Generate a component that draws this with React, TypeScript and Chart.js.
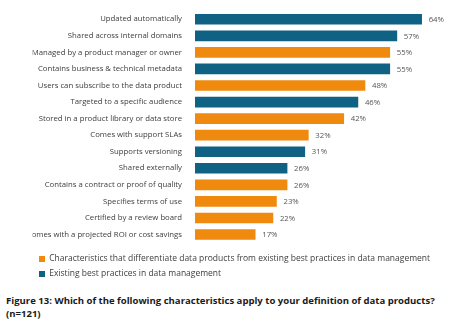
import React, { useEffect, useRef } from "react";
import { Chart, registerables } from "chart.js";

Chart.register(...registerables);

const categories = [
  "Updated automatically",
  "Shared across internal domains",
  "Managed by a product manager or owner",
  "Contains business & technical metadata",
  "Users can subscribe to the data product",
  "Targeted to a specific audience",
  "Stored in a product library or data store",
  "Comes with support SLAs",
  "Supports versioning",
  "Shared externally",
  "Contains a contract or proof of quality",
  "Specifies terms of use",
  "Certified by a review board",
  "Comes with a projected ROI or cost savings",
];

const differentiating: (number | null)[] = [null, null, 55, null, 48, null, 42, 32, null, null, 26, 23, 22, 17];
const existing: (number | null)[] = [64, 57, null, 55, null, 46, null, null, 31, 26, null, null, null, null];

const seriesLabels = [
  "Characteristics that differentiate data products from existing best practices in data management",
  "Existing best practices in data management",
];

const titleLines = [
  "Figure 13: Which of the following characteristics apply to your definition of data products?",
  "(n=121)",
];

const ORANGE = "#F08A0E";
const BLUE = "#0F6283";
const FONT = "'Open Sans', Lato, sans-serif";
const LABEL_SIZE = 7.75;

const valueLabels = {
  id: "valueLabels",
  afterDatasetsDraw(chart: any) {
    const ctx = chart.ctx;
    ctx.save();
    ctx.font = `${LABEL_SIZE}px ${FONT}`;
    ctx.fillStyle = "#555555";
    ctx.textAlign = "left";
    ctx.textBaseline = "middle";
    chart.data.datasets.forEach((ds: any, di: number) => {
      const meta = chart.getDatasetMeta(di);
      meta.data.forEach((el: any, i: number) => {
        const v = ds.data[i];
        if (v === null || v === undefined) return;
        ctx.fillText(`${v}%`, el.x + 7, el.y + 0.5);
      });
    });
    ctx.restore();
  },
};

export default function App() {
  const ref = useRef<HTMLCanvasElement>(null);
  useEffect(() => {
    if (!ref.current) return;
    const chart = new Chart(ref.current, {
      type: "bar",
      data: {
        labels: categories,
        datasets: [
          {
            label: seriesLabels[0],
            data: differentiating,
            backgroundColor: ORANGE,
            barThickness: 10,
            grouped: false,
          },
          {
            label: seriesLabels[1],
            data: existing,
            backgroundColor: BLUE,
            barThickness: 10,
            grouped: false,
          },
        ],
      } as any,
      options: {
        indexAxis: "y",
        responsive: false,
        animation: false,
        layout: { padding: { left: 32.5, right: 13.4, top: 11, bottom: 0.75 } },
        scales: {
          x: {
            display: false,
            min: 0,
            max: 75,
          },
          y: {
            grid: { display: false, drawTicks: false },
            border: { display: false },
            ticks: {
              padding: 13,
              color: "#3d3d3d",
              font: { family: FONT, size: LABEL_SIZE },
            },
            afterFit: (axis: any) => {
              axis.width = 162.5;
              axis.paddingTop = 0;
              axis.paddingBottom = 0;
            },
          },
        },
        plugins: {
          legend: {
            position: "bottom",
            align: "start",
            title: {
              display: true,
              text: " ",
              font: { size: 1 },
              padding: { top: 4.25, bottom: 0 },
            },
            labels: {
              boxWidth: 6,
              boxHeight: 6,
              padding: 6.5,
              color: "#3d3d3d",
              font: { family: FONT, size: 8.5 },
            },
          },
          tooltip: { enabled: false },
        },
      } as any,
      plugins: [valueLabels],
    });
    return () => chart.destroy();
  }, []);

  return (
    <div style={{ position: "fixed", left: 0, top: 0, width: 474, height: 327, overflow: "hidden", background: "#fff" }}>
      <canvas
        ref={ref}
        width={474}
        height={289}
        style={{ position: "absolute", left: 0, top: 0, display: "block", width: 474, height: 289 }}
      />
      <div
        style={{
          position: "absolute",
          left: 6,
          top: 294,
          fontFamily: FONT,
          fontWeight: 700,
          fontSize: 9.55,
          lineHeight: "13.3px",
          color: "#1a1a1a",
          whiteSpace: "nowrap",
        }}
      >
        {titleLines.map((t) => (
          <div key={t}>{t}</div>
        ))}
      </div>
    </div>
  );
}
